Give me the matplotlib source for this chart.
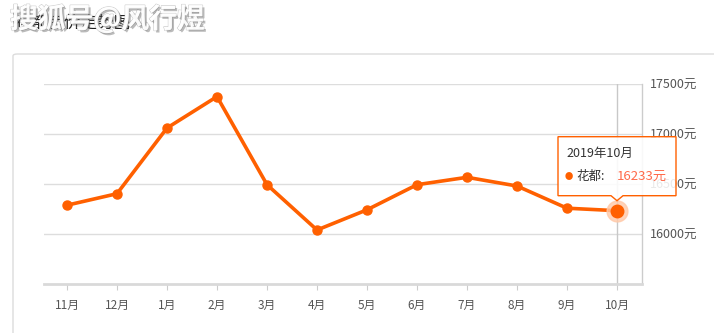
import numpy as np
import matplotlib.pyplot as plt
from matplotlib.patches import FancyBboxPatch, Polygon
import matplotlib.patheffects as pe

plt.rcParams['font.family'] = ['Noto Sans CJK SC', 'DejaVu Sans']

# data
months = ['11月', '12月', '1月', '2月', '3月', '4月', '5月', '6月', '7月', '8月', '9月', '10月']
prices = [16288, 16403, 17060, 17374, 16493, 16040, 16242, 16493, 16567, 16480, 16258, 16233]
yticks = [16000, 16500, 17000, 17500]
title = '花都房价走势图'
watermark = '搜狐号@风行煜'
tip_date = '2019年10月'
tip_name = '花都:'

W, H = 714, 333
orange = '#ff6000'

fig = plt.figure(figsize=(W / 100, H / 100), dpi=100)

def fx(px):
    return px / W

def fy(py):
    return 1 - py / H

# outer panel, behind everything
panel = FancyBboxPatch((fx(13), fy(345)), fx(720), fy(54) - fy(345),
                       boxstyle='round,pad=0,rounding_size=0.006',
                       transform=fig.transFigure, fc='white', ec='#dcdcdc', lw=1, zorder=-10)
fig.patches.append(panel)

fig.text(fx(14), fy(23), title, fontsize=12, color='#222222', va='center', ha='left')
fig.text(fx(10), fy(19), watermark, fontsize=20, fontweight='bold', color='white',
         va='center', ha='left', alpha=0.92,
         path_effects=[pe.withStroke(linewidth=1.0, foreground='#c8c8c8'),
                       pe.withSimplePatchShadow(offset=(1.5, -1.5), shadow_rgbFace='#555555', alpha=0.4)])

ax = fig.add_axes([fx(44), fy(284), fx(642) - fx(44), fy(84) - fy(284)])
ax.patch.set_alpha(0)
x = np.arange(len(months))
ax.set_xlim(-0.46, 11.5)
ax.set_ylim(15500, 17500)

for v in yticks:
    ax.axhline(v, color='#dddddd', lw=1, zorder=1)

for s in ['top', 'left']:
    ax.spines[s].set_visible(False)
ax.spines['right'].set_color('#cccccc')
ax.spines['right'].set_linewidth(1)
ax.spines['bottom'].set_color('#d9d9d9')
ax.spines['bottom'].set_linewidth(2)

ax.yaxis.tick_right()
ax.set_yticks(yticks)
ax.set_yticklabels([f'{v}元' for v in yticks], fontsize=9, color='#555555')
ax.tick_params(axis='y', length=0, pad=6)
ax.set_xticks(x)
ax.set_xticklabels(months, fontsize=8.5, color='#555555')
ax.tick_params(axis='x', length=4, color='#cccccc', pad=7)

# crosshair on the last month
ax.axvline(x[-1], color='#c8c8c8', lw=1, zorder=2)

ax.plot(x, prices, color=orange, lw=2.6, marker='o', ms=6.5, zorder=3, clip_on=False)
ax.plot(x[-1], prices[-1], 'o', ms=15, color='#ffc9a8', alpha=0.8, zorder=4, clip_on=False)
ax.plot(x[-1], prices[-1], 'o', ms=9, color=orange, zorder=5, clip_on=False)

# tooltip anchored to the last point
fig.canvas.draw()
px, py = ax.transData.transform((x[-1], prices[-1]))
tip_y = py + 10
left, right, top, bot = px - 59, px + 59, py + 74, py + 15
box = Polygon([(left, bot), (px - 6, bot), (px, tip_y), (px + 6, bot), (right, bot),
               (right, top), (left, top)], closed=True, transform=None,
              fc=(1, 1, 1, 0.88), ec=orange, lw=1, zorder=10)
fig.patches.append(box)
fig.text((left + 8) / W, (top - 17) / H, tip_date, fontsize=9, color='#333333',
         va='center', ha='left', zorder=11)
fig.text((left + 11) / W, (top - 40) / H, '●', fontsize=6, color=orange,
         va='center', ha='center', zorder=11)
fig.text((left + 18) / W, (top - 40) / H, tip_name, fontsize=9, color='#333333',
         va='center', ha='left', zorder=11)
fig.text((left + 59) / W, (top - 40) / H, f'{prices[-1]}元', fontsize=9.5, color='#ff6a4a',
         va='center', ha='left', zorder=11)

fig.savefig('out.png', dpi=100)
